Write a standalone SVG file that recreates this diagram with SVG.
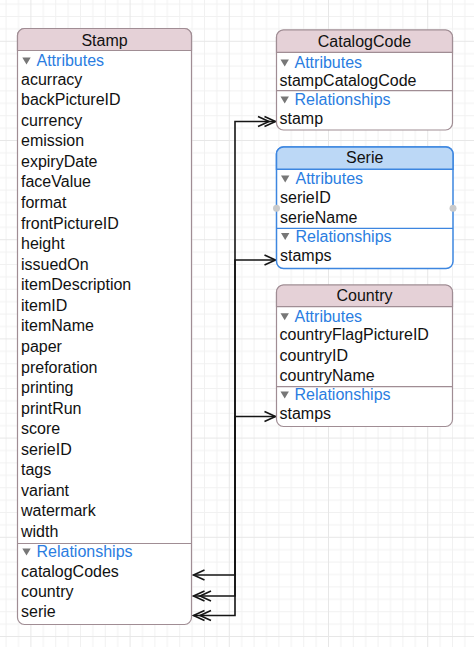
<svg xmlns="http://www.w3.org/2000/svg" width="474" height="647" viewBox="0 0 474 647">
<style>
.t{font-family:"Liberation Sans",Arial,sans-serif;font-size:16px;fill:#111}
.h{text-anchor:middle}
.b{fill:#2a7de1}
.box{fill:#fff;stroke:#a08d94;stroke-width:1.2}
.hd{fill:#e5d1d7;stroke:#a08d94;stroke-width:1.2}
.sep{stroke:#a08d94;stroke-width:1.2}
.boxs{fill:#fff;stroke:#3d86e0;stroke-width:1.5}
.hds{fill:#bcd8f6;stroke:#3d86e0;stroke-width:1.5}
.seps{stroke:#3d86e0;stroke-width:1.2}
.tri{fill:#777}
.c{fill:none;stroke:#151515;stroke-width:1.6}
.m{fill:none;stroke:#151515;stroke-width:1.6}
</style>
<defs>
<pattern id="grid" patternUnits="userSpaceOnUse" x="30.4" y="40.8" width="99.2" height="99.2">
<g fill="#f1f1f1">
<rect x="12.4" y="0" width="1" height="99.2"/><rect x="24.8" y="0" width="1" height="99.2"/><rect x="37.2" y="0" width="1" height="99.2"/><rect x="49.6" y="0" width="1" height="99.2"/><rect x="62" y="0" width="1" height="99.2"/><rect x="74.4" y="0" width="1" height="99.2"/><rect x="86.8" y="0" width="1" height="99.2"/>
<rect y="12.4" x="0" height="1" width="99.2"/><rect y="24.8" x="0" height="1" width="99.2"/><rect y="37.2" x="0" height="1" width="99.2"/><rect y="49.6" x="0" height="1" width="99.2"/><rect y="62" x="0" height="1" width="99.2"/><rect y="74.4" x="0" height="1" width="99.2"/><rect y="86.8" x="0" height="1" width="99.2"/>
</g>
<g fill="#e7e7e7"><rect x="0" y="0" width="1" height="99.2"/><rect x="0" y="0" width="99.2" height="1"/></g>
</pattern>
<path id="tri" class="tri" d="M0,0 H8.4 L4.2,7 Z"/>
<marker id="one" markerUnits="userSpaceOnUse" markerWidth="20" markerHeight="12" refX="0" refY="0" orient="auto" overflow="visible">
<path class="m" d="M-11,-5 L0,0 L-11,5"/>
</marker>
<marker id="two" markerUnits="userSpaceOnUse" markerWidth="20" markerHeight="12" refX="0" refY="0" orient="auto" overflow="visible">
<path class="m" d="M-11,-5 L0,0 L-11,5 M-17.5,-5 L-6.5,0 L-17.5,5"/>
</marker>
<marker id="oneS" markerUnits="userSpaceOnUse" markerWidth="20" markerHeight="12" refX="0" refY="0" orient="auto-start-reverse" overflow="visible">
<path class="m" d="M-11,-5 L0,0 L-11,5"/>
</marker>
<marker id="twoS" markerUnits="userSpaceOnUse" markerWidth="20" markerHeight="12" refX="0" refY="0" orient="auto-start-reverse" overflow="visible">
<path class="m" d="M-11,-5 L0,0 L-11,5 M-17.5,-5 L-6.5,0 L-17.5,5"/>
</marker>
</defs>
<rect width="474" height="647" fill="#fff"/>
<rect width="474" height="647" fill="url(#grid)"/>

<g id="connectors">
<path class="c" d="M193.5,575 H235 V121.5 H275.5" marker-start="url(#oneS)" marker-end="url(#two)"/>
<path class="c" d="M193.5,596 H235 V416.5 H275.5" marker-start="url(#twoS)" marker-end="url(#one)"/>
<path class="c" d="M193.5,615.5 H235 V260 H275.5" marker-start="url(#twoS)" marker-end="url(#one)"/>
</g>

<g id="Stamp">
<rect class="box" x="17.5" y="28.5" width="174" height="596" rx="7"/>
<path class="hd" d="M17.5,50.5 V35.5 A7,7 0 0 1 24.5,28.5 H184.5 A7,7 0 0 1 191.5,35.5 V50.5 Z"/>
<text class="t h" x="104.5" y="45.5">Stamp</text>
<use href="#tri" x="22.3" y="57.5"/>
<text class="t b" x="36.5" y="66">Attributes</text>
<text class="t" x="21" y="84.5">acurracy</text>
<text class="t" x="21" y="105.1">backPictureID</text>
<text class="t" x="21" y="125.7">currency</text>
<text class="t" x="21" y="146.2">emission</text>
<text class="t" x="21" y="166.8">expiryDate</text>
<text class="t" x="21" y="187.4">faceValue</text>
<text class="t" x="21" y="207.9">format</text>
<text class="t" x="21" y="228.5">frontPictureID</text>
<text class="t" x="21" y="249.1">height</text>
<text class="t" x="21" y="269.6">issuedOn</text>
<text class="t" x="21" y="290.2">itemDescription</text>
<text class="t" x="21" y="310.8">itemID</text>
<text class="t" x="21" y="331.3">itemName</text>
<text class="t" x="21" y="351.9">paper</text>
<text class="t" x="21" y="372.5">preforation</text>
<text class="t" x="21" y="393">printing</text>
<text class="t" x="21" y="413.6">printRun</text>
<text class="t" x="21" y="434.2">score</text>
<text class="t" x="21" y="454.7">serieID</text>
<text class="t" x="21" y="475.3">tags</text>
<text class="t" x="21" y="495.9">variant</text>
<text class="t" x="21" y="516.4">watermark</text>
<text class="t" x="21" y="537">width</text>
<line class="sep" x1="17.5" y1="543.5" x2="191.5" y2="543.5"/>
<use href="#tri" x="22.3" y="548.5"/>
<text class="t b" x="36.5" y="557">Relationships</text>
<text class="t" x="21" y="576.5">catalogCodes</text>
<text class="t" x="21" y="596.5">country</text>
<text class="t" x="21" y="616.5">serie</text>
</g>

<g id="CatalogCode">
<rect class="box" x="276.5" y="30" width="176" height="100" rx="7"/>
<path class="hd" d="M276.5,52.3 V37 A7,7 0 0 1 283.5,30 H445.5 A7,7 0 0 1 452.5,37 V52.3 Z"/>
<text class="t h" x="364.5" y="46.5">CatalogCode</text>
<use href="#tri" x="280.5" y="59.5"/>
<text class="t b" x="294.5" y="68">Attributes</text>
<text class="t" x="279.5" y="85.5">stampCatalogCode</text>
<line class="sep" x1="276.5" y1="90.7" x2="452.5" y2="90.7"/>
<use href="#tri" x="280.5" y="96.5"/>
<text class="t b" x="294.5" y="105">Relationships</text>
<text class="t" x="279.5" y="123.5">stamp</text>
</g>

<g id="Serie">
<rect class="boxs" x="276.5" y="147" width="176.5" height="121.5" rx="7"/>
<path class="hds" d="M276.5,169.3 V154 A7,7 0 0 1 283.5,147 H446 A7,7 0 0 1 453,154 V169.3 Z"/>
<text class="t h" x="364.7" y="163">Serie</text>
<use href="#tri" x="281" y="175.5"/>
<text class="t b" x="295.5" y="184">Attributes</text>
<text class="t" x="280" y="202.7">serieID</text>
<text class="t" x="280" y="222.7">serieName</text>
<line class="seps" x1="276.5" y1="228.3" x2="453" y2="228.3"/>
<use href="#tri" x="281" y="233"/>
<text class="t b" x="295.5" y="241.5">Relationships</text>
<text class="t" x="280" y="260.7">stamps</text>
<circle cx="276.5" cy="208.3" r="3.5" fill="#cacaca"/>
<circle cx="453" cy="208.3" r="3.5" fill="#cacaca"/>
</g>

<g id="Country">
<rect class="box" x="276.5" y="285" width="176" height="141.5" rx="7"/>
<path class="hd" d="M276.5,306.7 V292 A7,7 0 0 1 283.5,285 H445.5 A7,7 0 0 1 452.5,292 V306.7 Z"/>
<text class="t h" x="364.5" y="301">Country</text>
<use href="#tri" x="280.5" y="313.2"/>
<text class="t b" x="294.5" y="321.7">Attributes</text>
<text class="t" x="279.5" y="339.5">countryFlagPictureID</text>
<text class="t" x="279.5" y="361">countryID</text>
<text class="t" x="279.5" y="381">countryName</text>
<line class="sep" x1="276.5" y1="386.7" x2="452.5" y2="386.7"/>
<use href="#tri" x="280.5" y="391.5"/>
<text class="t b" x="294.5" y="400">Relationships</text>
<text class="t" x="279.5" y="419.3">stamps</text>
</g>
</svg>
